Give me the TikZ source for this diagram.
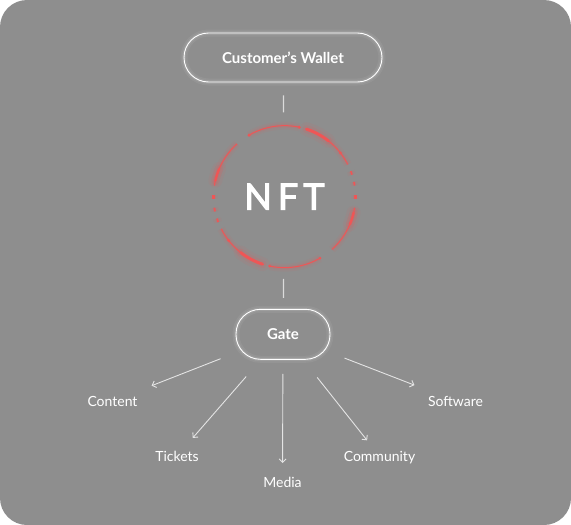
\documentclass[tikz,border=0pt]{standalone}
\usepackage{fontspec}
\setmainfont{Lato}
\usetikzlibrary{arrows.meta, positioning}
\definecolor{panel}{RGB}{142,142,142}
\definecolor{ringred}{RGB}{238,86,86}
\definecolor{linkgray}{RGB}{228,228,228}
\tikzstyle{arrow}=[-{Straight Barb[length=3.5pt,width=7pt]}, line width=0.9pt, color=linkgray]
\tikzstyle{link}=[line width=1.2pt, color=linkgray!90!panel]

\begin{document}
\begin{tikzpicture}[x=1pt, y=-1pt,
  pill/.style={rectangle, rounded corners=24.5pt, draw=white, line width=0.9pt,
               minimum height=49pt, text=white, inner sep=0pt,
               font=\bfseries\fontsize{15}{15}\selectfont,
               preaction={draw=white, line width=7pt, opacity=0.06},
               preaction={draw=white, line width=3.5pt, opacity=0.10}},
  ring/.style={circle, minimum size=142pt, inner sep=0pt, text=white,
               font=\fontsize{36}{36}\selectfont\addfontfeature{FakeBold=3}},
  item/.style={text=white, inner sep=0pt, text height=10pt, text depth=0pt,
               font=\fontsize{14}{14}\selectfont},
  ringthin/.style={draw=ringred, line width=1pt,
               preaction={draw=ringred, line width=8pt, opacity=0.08},
               preaction={draw=ringred, line width=4pt, opacity=0.14}},
  ringthick/.style={draw=ringred, line width=3pt, line cap=round,
               preaction={draw=ringred, line width=14pt, opacity=0.08, line cap=round},
               preaction={draw=ringred, line width=8pt, opacity=0.14, line cap=round}}
]
\useasboundingbox (0,0) rectangle (571,525);
\fill[white] (0,0) rectangle (571,525);
\fill[panel, rounded corners=27pt] (0,0) rectangle (571,525);

% Wallet, token and gate
\node[pill, minimum width=198pt] (wallet) at (283,57.5) {Customer's Wallet};
\node[ring, below=43pt of wallet, xshift=1.5pt] (nft) {N\kern6pt F\kern5pt T};
\node[pill, minimum width=94pt, minimum height=50pt, below=41pt of nft, xshift=-1.5pt] (gate) {Gate};

\draw[link, shorten <=13pt, shorten >=13pt] (wallet) -- (nft);
\draw[link, shorten <=11pt, shorten >=11pt] (nft) -- (gate);

% Red ring round the token
\foreach \r in {0,180}{
  \begin{scope}[shift={(nft.center)}, x=1pt, y=1pt, rotate=\r]
    \draw[ringthin] (78:71) arc[start angle=78, end angle=120, radius=71];
    \fill[ringred] (78:71) circle[radius=1.6];
    \fill[ringred] (120:71) circle[radius=1.6];
    \draw[ringthick] (52:71) arc[start angle=52, end angle=72, radius=71];
    \draw[ringthin] (27:71) arc[start angle=27, end angle=52, radius=71];
    \fill[ringred] (38:71) circle[radius=1.6];
    \draw[ringthin, line width=1.6pt] (18:71) arc[start angle=18, end angle=21, radius=71];
    \draw[ringthin, line width=1.6pt] (9:71) arc[start angle=9, end angle=12, radius=71];
    \draw[ringthin, line width=3.2pt] (-1.5:71) arc[start angle=-1.5, end angle=1.5, radius=71];
    \draw[ringthin] (132:71) arc[start angle=132, end angle=171, radius=71];
    \draw[ringthick, line width=2.4pt] (157:71) arc[start angle=157, end angle=167, radius=71];
  \end{scope}
}

% Gated items
\node[item] (content) at (112.5,401) {Content};
\node[item] (tickets) at (177,456) {Tickets};
\node[item] (media) at (282.5,482) {Media};
\node[item] (community) at (379.5,456) {Community};
\node[item] (software) at (455.5,401) {Software};

\draw[arrow, shorten <=67pt, shorten >=42pt] (gate.center) -- (content.center);
\draw[arrow, shorten <=56pt, shorten >=24pt] (gate.center) -- (tickets.center);
\draw[arrow, shorten <=39.5pt, shorten >=19pt] (gate.center) -- (media.center);
\draw[arrow, shorten <=55pt, shorten >=20pt] (gate.center) -- (community.center);
\draw[arrow, shorten <=66pt, shorten >=44pt] (gate.center) -- (software.center);
\end{tikzpicture}
\end{document}
